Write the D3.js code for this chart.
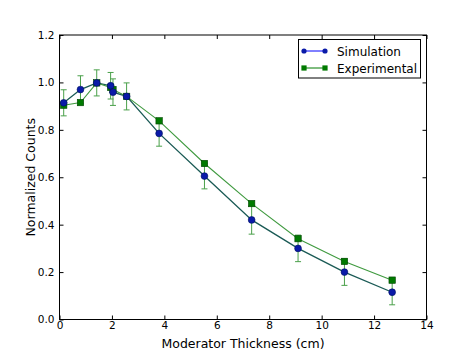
<!DOCTYPE html>
<html><head><meta charset="utf-8">
<script src="https://cdn.jsdelivr.net/npm/d3@7"></script>
<style>body{margin:0;background:#fff}svg{display:block}text{font-family:"DejaVu Sans",sans-serif;fill:#000}</style>
</head><body><svg id="c" width="474" height="355"></svg>
<script>
const simX = [0.16, 0.8, 1.42, 1.95, 2.04, 2.56, 3.8, 5.53, 7.33, 9.1, 10.87, 12.69];
const simY = [0.914, 0.970, 0.998, 0.986, 0.959, 0.941, 0.785, 0.605, 0.420, 0.300, 0.200, 0.115];
const simErr = [0.055, 0.058, 0.055, 0.056, 0.056, 0.057, 0.054, 0.054, 0.060, 0.056, 0.056, 0.053];
const expX = [0.16, 0.8, 1.42, 1.95, 2.04, 2.56, 3.8, 5.53, 7.33, 9.1, 10.87, 12.69];
const expY = [0.904, 0.915, 0.998, 0.979, 0.970, 0.941, 0.838, 0.658, 0.489, 0.341, 0.245, 0.166];
const xTicks = [0, 2, 4, 6, 8, 10, 12, 14];
const yTicks = [0.0, 0.2, 0.4, 0.6, 0.8, 1.0, 1.2];
const legendLabels = ["Simulation", "Experimental"];

const svg = d3.select("#c");
const L = 59.5, R = 426.5, T = 35, B = 319.5;
const x = d3.scaleLinear().domain([0, 14]).range([L, R]);
const y = d3.scaleLinear().domain([0, 1.2]).range([B, T]);

svg.append("rect").attr("x", L).attr("y", T).attr("width", R - L).attr("height", B - T)
  .attr("fill", "none").attr("stroke", "#000").attr("stroke-width", 1);

const fmtY = d3.format(".1f");
const axB = svg.append("g").attr("transform", `translate(0,${B})`)
  .call(d3.axisBottom(x).tickValues(xTicks).tickSize(-4).tickPadding(2).tickFormat(d3.format("d")));
const axT = svg.append("g").attr("transform", `translate(0,${T})`)
  .call(d3.axisTop(x).tickValues(xTicks).tickSize(-4).tickFormat(""));
const axL = svg.append("g").attr("transform", `translate(${L},0)`)
  .call(d3.axisLeft(y).tickValues(yTicks).tickSize(-4).tickPadding(5).tickFormat(fmtY));
const axR = svg.append("g").attr("transform", `translate(${R},0)`)
  .call(d3.axisRight(y).tickValues(yTicks).tickSize(-4).tickFormat(""));
[axB, axT, axL, axR].forEach(a => {
  a.select(".domain").remove();
  a.selectAll("line").attr("stroke", "#000");
  a.selectAll("text").attr("font-size", 10.5).attr("font-family", "DejaVu Sans").attr("fill", "#222");
});

svg.append("text").attr("x", (L + R) / 2).attr("y", 348).attr("text-anchor", "middle")
  .attr("font-size", 12.5).text("Moderator Thickness (cm)");
svg.append("text").attr("transform", `translate(35,${(T + B) / 2}) rotate(-90)`)
  .attr("text-anchor", "middle").attr("font-size", 12.5).text("Normalized Counts");

const line = d3.line().x(d => x(d[0])).y(d => y(d[1]));
const simData = simX.map((v, i) => [v, simY[i], simErr[i]]);
const expData = expX.map((v, i) => [v, expY[i]]);

svg.append("path").datum(simData).attr("d", line).attr("fill", "none")
  .attr("stroke", "#1a5a55").attr("stroke-width", 1.3);
svg.append("path").datum(expData).attr("d", line).attr("fill", "none")
  .attr("stroke", "#3f9a3f").attr("stroke-width", 1.1);

const eb = svg.append("g").attr("stroke", "#4aa04a").attr("stroke-width", 1);
simData.forEach(d => {
  eb.append("line").attr("x1", x(d[0])).attr("x2", x(d[0])).attr("y1", y(d[1] - d[2])).attr("y2", y(d[1] + d[2]));
  [d[1] - d[2], d[1] + d[2]].forEach(v => eb.append("line")
    .attr("x1", x(d[0]) - 3).attr("x2", x(d[0]) + 3).attr("y1", y(v)).attr("y2", y(v)));
});

svg.append("g").selectAll("rect").data(expData).join("rect")
  .attr("x", d => x(d[0]) - 3.2).attr("y", d => y(d[1]) - 3.2).attr("width", 6.4).attr("height", 6.4)
  .attr("fill", "#007a00").attr("stroke", "#004400").attr("stroke-width", 0.6);
svg.append("g").selectAll("circle").data(simData).join("circle")
  .attr("cx", d => x(d[0])).attr("cy", d => y(d[1])).attr("r", 3.4)
  .attr("fill", "#0a1aa8").attr("stroke", "#001060").attr("stroke-width", 0.6);

const lg = svg.append("g");
lg.append("rect").attr("x", 298.5).attr("y", 39.5).attr("width", 122).attr("height", 38.5)
  .attr("fill", "#fff").attr("stroke", "#000").attr("stroke-width", 1);
const ly = [51, 68];
const lcol = ["#0000ff", "#007a00"];
legendLabels.forEach((t, i) => {
  lg.append("line").attr("x1", 304).attr("x2", 325).attr("y1", ly[i]).attr("y2", ly[i])
    .attr("stroke", lcol[i]).attr("stroke-width", 1);
  [304, 325].forEach(px => {
    if (i === 0) lg.append("circle").attr("cx", px).attr("cy", ly[i]).attr("r", 2.6).attr("fill", "#0a1aa8");
    else lg.append("rect").attr("x", px - 2.6).attr("y", ly[i] - 2.6).attr("width", 5.2).attr("height", 5.2).attr("fill", "#007a00");
  });
  lg.append("text").attr("x", 337).attr("y", ly[i] + 4.5).attr("font-size", 12).text(t);
});
</script></body></html>
